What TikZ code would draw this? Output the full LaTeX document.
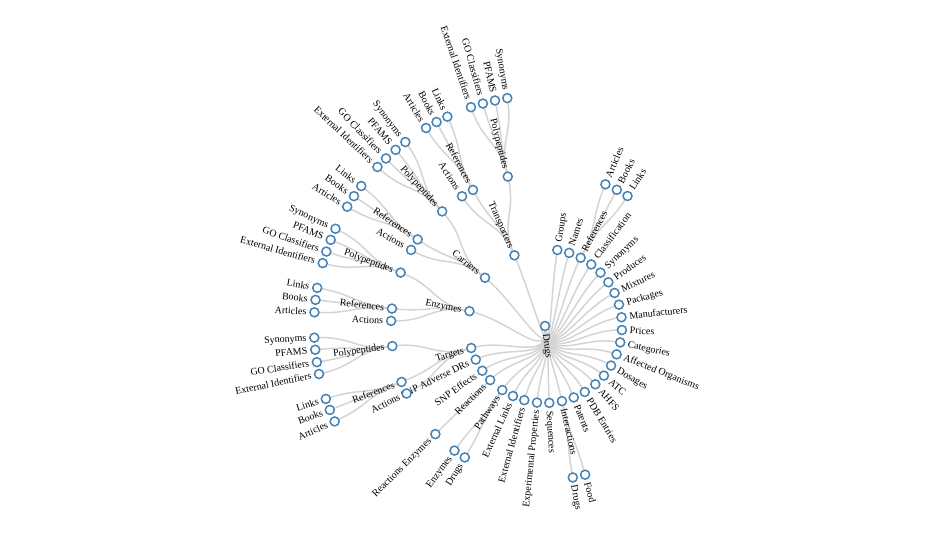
\documentclass[tikz,border=0pt]{standalone}
\usepackage{fontspec}
\setmainfont{Liberation Serif}
\usetikzlibrary{calc,backgrounds}
\definecolor{steel}{RGB}{70,130,180}
\definecolor{linkc}{RGB}{212,212,212}
\tikzset{
  dot/.style={circle, draw=steel, fill=white, line width=1.5pt, minimum size=9pt, inner sep=0pt},
  link/.style={draw=linkc, line width=1.5pt},
  lbl/.style={font=\fontsize{10}{12}\selectfont, inner sep=0pt, outer sep=0pt, text=black}
}
\makeatletter
% #1 side (R/L), #2 name, #3 parent, #4 angle, #5 radius, #6 text
\newcommand{\tn}[6]{%
  \node[dot] (#2) at ($(O)+(#4:#5)$) {};
  \expandafter\xdef\csname tA@#2\endcsname{#4}%
  \expandafter\xdef\csname tR@#2\endcsname{#5}%
  \pgfmathsetmacro\tn@m{(\csname tR@#3\endcsname+#5)/2}%
  \edef\tn@pa{\csname tA@#3\endcsname}%
  \pgfmathsetmacro\tn@lr{#5+8}%
  \pgfmathsetmacro\tn@am{#4-90}%
  \pgfmathsetmacro\tn@ap{#4+90}%
  \pgfmathsetmacro\tn@af{#4+180}%
  \begin{scope}[on background layer]
    \draw[link] (#3.center) .. controls ($(O)+(\tn@pa:\tn@m)$) and ($(O)+(#4:\tn@m)$) .. (#2.center);
  \end{scope}
  \if#1R
    \node[lbl, anchor=base west, rotate=#4] (t-#2) at ($(O)+(#4:\tn@lr)+(\tn@am:3.1)$) {#6};
  \else
    \node[lbl, anchor=base east, rotate=\tn@af] (t-#2) at ($(O)+(#4:\tn@lr)+(\tn@ap:3.1)$) {#6};
  \fi
}
\makeatother
\begin{document}
\begin{tikzpicture}[x=1pt,y=1pt]
\useasboundingbox (0,0) rectangle (933,-536);
\coordinate (O) at (545,-326);
\node[dot] (root) at (O) {};
\expandafter\xdef\csname tA@root\endcsname{-82.8}
\expandafter\xdef\csname tR@root\endcsname{0}
\node[lbl, anchor=base west, rotate=-82.8] (t-root) at ($(O)+(-82.8:8)+(-172.8:3.1)$) {Drugs};
% right side
\tn{R}{groups}{root}{80.8}{77}{Groups}
\tn{R}{names}{root}{71.7}{77}{Names}
\tn{R}{refs}{root}{62.4}{77}{References}
\tn{R}{refs-art}{refs}{66.9}{154}{Articles}
\tn{R}{refs-bks}{refs}{62.2}{154}{Books}
\tn{R}{refs-lnk}{refs}{57.6}{154}{Links}
\tn{R}{class}{root}{53.1}{77}{Classification}
\tn{R}{syn}{root}{43.9}{77}{Synonyms}
\tn{R}{prod}{root}{34.6}{77}{Produces}
\tn{R}{mix}{root}{25.4}{77}{Mixtures}
\tn{R}{pack}{root}{16.1}{77}{Packages}
\tn{R}{manu}{root}{6.5}{77}{Manufacturers}
\tn{R}{price}{root}{-3.0}{77}{Prices}
\tn{R}{cat}{root}{-12.3}{77}{Categories}
\tn{R}{aff}{root}{-21.6}{77}{Affected Organisms}
\tn{R}{dos}{root}{-30.9}{77}{Dosages}
\tn{R}{atc}{root}{-40.1}{77}{ATC}
\tn{R}{ahfs}{root}{-49.2}{77}{AHFS}
\tn{R}{pdb}{root}{-58.9}{77}{PDB Entries}
\tn{R}{pat}{root}{-68.1}{77}{Patents}
\tn{R}{inter}{root}{-77.3}{77}{Interactions}
\tn{R}{inter-drg}{inter}{-79.6}{154}{Drugs}
\tn{R}{inter-food}{inter}{-74.9}{154}{Food}
\tn{R}{seq}{root}{-86.8}{77}{Sequences}
% left side
\tn{L}{exp}{root}{264.0}{77}{Experimental Properties}
\tn{L}{extid}{root}{254.4}{77}{External Identifiers}
\tn{L}{extl}{root}{245.4}{77}{External Links}
\tn{L}{path}{root}{236.3}{77}{Pathways}
\tn{L}{path-enz}{path}{234.0}{154}{Enzymes}
\tn{L}{path-drg}{path}{238.6}{154}{Drugs}
\tn{L}{react}{root}{224.6}{77}{Reactions}
\tn{L}{react-enz}{react}{224.6}{154}{Reactions Enzymes}
\tn{L}{snpe}{root}{215.5}{77}{SNP Effects}
\tn{L}{snpa}{root}{205.9}{77}{SNP Adverse DRs}
% Targets
\tn{L}{tg}{root}{196.6}{77}{Targets}
\tn{L}{tg-pp}{tg}{187.5}{154}{Polypeptides}
\tn{L}{tg-pp-syn}{tg-pp}{182.9}{231}{Synonyms}
\tn{L}{tg-pp-pf}{tg-pp}{185.9}{231}{PFAMS}
\tn{L}{tg-pp-go}{tg-pp}{189.0}{231}{GO Classifiers}
\tn{L}{tg-pp-ext}{tg-pp}{192.0}{231}{External Identifiers}
\tn{L}{tg-rf}{tg}{201.3}{154}{References}
\tn{L}{tg-rf-lnk}{tg-rf}{198.4}{231}{Links}
\tn{L}{tg-rf-bks}{tg-rf}{201.3}{231}{Books}
\tn{L}{tg-rf-art}{tg-rf}{204.4}{231}{Articles}
\tn{L}{tg-ac}{tg}{206.0}{154}{Actions}
% Enzymes
\tn{L}{ez}{root}{168.9}{77}{Enzymes}
\tn{L}{ez-pp}{ez}{159.7}{154}{Polypeptides}
\tn{L}{ez-pp-syn}{ez-pp}{155.1}{231}{Synonyms}
\tn{L}{ez-pp-pf}{ez-pp}{158.1}{231}{PFAMS}
\tn{L}{ez-pp-go}{ez-pp}{161.2}{231}{GO Classifiers}
\tn{L}{ez-pp-ext}{ez-pp}{164.2}{231}{External Identifiers}
\tn{L}{ez-rf}{ez}{173.5}{154}{References}
\tn{L}{ez-rf-lnk}{ez-rf}{170.5}{231}{Links}
\tn{L}{ez-rf-bks}{ez-rf}{173.5}{231}{Books}
\tn{L}{ez-rf-art}{ez-rf}{176.6}{231}{Articles}
\tn{L}{ez-ac}{ez}{178.1}{154}{Actions}
% Carriers
\tn{L}{ca}{root}{141.2}{77}{Carriers}
\tn{L}{ca-pp}{ca}{131.9}{154}{Polypeptides}
\tn{L}{ca-pp-syn}{ca-pp}{127.2}{231}{Synonyms}
\tn{L}{ca-pp-pf}{ca-pp}{130.3}{231}{PFAMS}
\tn{L}{ca-pp-go}{ca-pp}{133.5}{231}{GO Classifiers}
\tn{L}{ca-pp-ext}{ca-pp}{136.5}{231}{External Identifiers}
\tn{L}{ca-rf}{ca}{145.8}{154}{References}
\tn{L}{ca-rf-lnk}{ca-rf}{142.7}{231}{Links}
\tn{L}{ca-rf-bks}{ca-rf}{145.8}{231}{Books}
\tn{L}{ca-rf-art}{ca-rf}{148.9}{231}{Articles}
\tn{L}{ca-ac}{ca}{150.4}{154}{Actions}
% Transporters
\tn{L}{tr}{root}{113.4}{77}{Transporters}
\tn{L}{tr-pp}{tr}{104.0}{154}{Polypeptides}
\tn{L}{tr-pp-syn}{tr-pp}{99.4}{231}{Synonyms}
\tn{L}{tr-pp-pf}{tr-pp}{102.5}{231}{PFAMS}
\tn{L}{tr-pp-go}{tr-pp}{105.6}{231}{GO Classifiers}
\tn{L}{tr-pp-ext}{tr-pp}{108.7}{231}{External Identifiers}
\tn{L}{tr-rf}{tr}{117.9}{154}{References}
\tn{L}{tr-rf-lnk}{tr-rf}{115.0}{231}{Links}
\tn{L}{tr-rf-bks}{tr-rf}{118.0}{231}{Books}
\tn{L}{tr-rf-art}{tr-rf}{121.0}{231}{Articles}
\tn{L}{tr-ac}{tr}{122.6}{154}{Actions}
\end{tikzpicture}
\end{document}
